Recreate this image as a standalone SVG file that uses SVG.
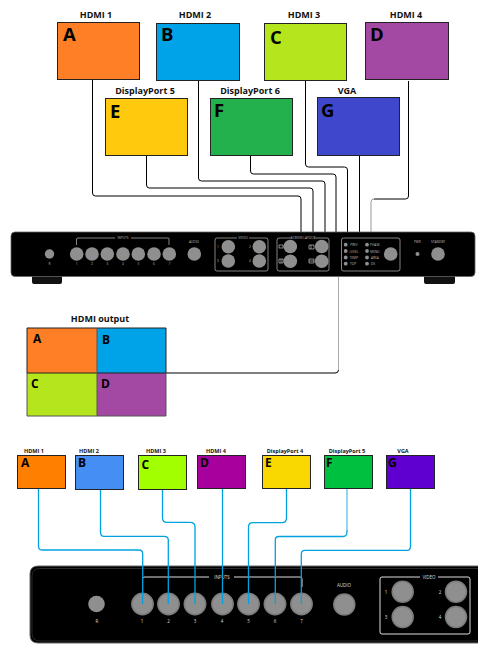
<svg xmlns="http://www.w3.org/2000/svg" width="494" height="655" viewBox="0 0 494 655">
<style>
text{font-family:"Open Sans","Liberation Sans",sans-serif}
.t{font-size:9px;font-weight:700;fill:#111;text-anchor:middle}
.l{font-size:18.500px;font-weight:700;fill:#000}
.m{font-size:12px;font-weight:700;fill:#000}
.s{font-size:5.500px;font-weight:700;fill:#111;text-anchor:middle}
.b{stroke:#222;stroke-width:1}
.k{fill:none;stroke:#000;stroke-width:1}
.c{fill:none;stroke:#00a2e0;stroke-width:1.300}
.g{fill:#8f8f8f}
.h{fill:#8f8f8f;stroke:#7c7c7c;stroke-width:1.500}
.f{fill:none;stroke:#ddd;stroke-width:.6}
.e{fill:none;stroke:#ddd;stroke-width:1}
.w{font-size:3.200px;fill:#bbb;text-anchor:middle}
.v{font-size:4.500px;fill:#ddd;text-anchor:middle}
</style>
<rect width="494" height="655" fill="#fff"/>
<g id="connectors-top">
<path class="k" d="M92.500 80V193Q92.500 196 95.500 196H298Q301 196 301 199V232"/>
<path class="k" d="M146.500 156V185Q146.500 188 149.500 188H310Q313 188 313 191V232"/>
<path class="k" d="M198.500 80V178Q198.500 181 201.500 181H322Q325 181 325 184V232"/>
<path class="k" d="M250.500 155V171Q250.500 174 253.500 174H333Q336 174 336 177V232"/>
<path class="k" d="M305.500 80V164Q305.500 167 308.500 167H344.500Q347.500 167 347.500 170V232"/>
<path class="k" d="M359.500 155V232"/>
<path class="k" d="M408.500 81V196Q408.500 199 405.500 199H374"/>
<path d="M374 199Q371 199 371 202V232" fill="none" stroke="#999" stroke-width="1"/>
<path d="M338.500 277V370" fill="none" stroke="#aaa" stroke-width="1"/>
<path class="k" d="M338.500 370Q338.500 373 335 373H166"/>
</g>
<g id="hdmi1"><text class="t" x="96" y="18">HDMI 1</text><rect class="b" x="57.500" y="22.500" width="82" height="57" fill="#ff7f27"/><text class="l" x="63" y="41">A</text></g>
<g id="hdmi2"><text class="t" x="195" y="18">HDMI 2</text><rect class="b" x="156.500" y="23.500" width="83" height="57" fill="#00a2e8"/><text class="l" x="161" y="41">B</text></g>
<g id="hdmi3"><text class="t" x="304" y="18">HDMI 3</text><rect class="b" x="264.500" y="23.500" width="82" height="57" fill="#b5e61d"/><text class="l" x="270" y="44">C</text></g>
<g id="hdmi4"><text class="t" x="406" y="18">HDMI 4</text><rect class="b" x="365.500" y="22.500" width="83" height="57" fill="#a349a4"/><text class="l" x="370" y="41">D</text></g>
<g id="dp5"><text class="t" x="145" y="94">DisplayPort 5</text><rect class="b" x="105.500" y="98.500" width="82" height="57" fill="#ffc90e"/><text class="l" x="110" y="118">E</text></g>
<g id="dp6"><text class="t" x="250" y="94">DisplayPort 6</text><rect class="b" x="210.500" y="98.500" width="82" height="57" fill="#22b14c"/><text class="l" x="214" y="117">F</text></g>
<g id="vga"><text class="t" x="347" y="94">VGA</text><rect class="b" x="317.500" y="97.500" width="82" height="58" fill="#3f48cc"/><text class="l" x="321" y="117">G</text></g>
<g id="device-top">
<path d="M32 274H62V282Q62 284 60 284H34Q32 284 32 282Z" fill="#111"/>
<path d="M424 274H455V282Q455 284 453 284H426Q424 284 424 282Z" fill="#111"/>
<rect x="11" y="232" width="464" height="44.500" rx="4" fill="#000" stroke="#666" stroke-width=".8"/>
<circle class="g" cx="49.500" cy="254" r="4.700"/><text class="w" x="49.500" y="265">R</text>
<path class="f" d="M76.500 245V239Q76.500 238 78 238H115M131 238H168Q169 238 169 239V245"/>
<text class="w" x="123" y="239">INPUTS</text>
<circle class="g" cx="76.700" cy="254" r="6.800"/><circle class="g" cx="92" cy="254" r="6.800"/><circle class="g" cx="107.300" cy="254" r="6.800"/><circle class="g" cx="123" cy="254" r="6.800"/><circle class="g" cx="138.300" cy="254" r="6.800"/><circle class="g" cx="154" cy="254" r="6.800"/><circle class="g" cx="169.300" cy="254" r="6.800"/>
<text class="w" x="76.700" y="265">1</text><text class="w" x="92" y="265">2</text><text class="w" x="107.300" y="265">3</text><text class="w" x="123" y="265">4</text><text class="w" x="138.300" y="265">5</text><text class="w" x="154" y="265">6</text><text class="w" x="169.300" y="265">7</text>
<circle class="g" cx="194.300" cy="254" r="6.800"/><text class="w" x="194" y="243">AUDIO</text>
<path class="f" d="M237 238H217Q215 238 215 240V269Q215 271 217 271H266Q268 271 268 269V240Q268 238 266 238H249"/><text class="w" x="243" y="239">VIDEO</text>
<circle class="g" cx="228.300" cy="246.700" r="6.800"/><circle class="g" cx="228.300" cy="261" r="6.800"/><circle class="g" cx="259.300" cy="246.700" r="6.800"/><circle class="g" cx="259.300" cy="261" r="6.800"/>
<text class="w" x="218" y="248">1</text><text class="w" x="218" y="262">3</text><text class="w" x="250" y="248">2</text><text class="w" x="250" y="262">4</text>
<path class="f" d="M292 238H279Q277 238 277 240V269Q277 271 279 271H327Q329 271 329 269V240Q329 238 327 238H314"/><text class="w" x="303" y="239">SCREEN LAYOUT</text>
<circle class="g" cx="290.300" cy="246.500" r="6.800"/><circle class="g" cx="290.300" cy="261.300" r="6.800"/><circle class="g" cx="321.700" cy="246.500" r="6.800"/><circle class="g" cx="321.700" cy="261.300" r="6.800"/>
<path class="f" d="M279 245H283V248H279ZM279 259H283V263H279ZM281 259V263M309 245H314V249H309ZM311 245V249M309 259H314V263H309ZM309 261H314"/>
<rect class="f" x="341.500" y="238" width="58.500" height="33" rx="2"/>
<circle class="g" cx="345.700" cy="244.700" r="1.900"/><circle class="g" cx="345.700" cy="251" r="1.900"/><circle class="g" cx="345.700" cy="257.500" r="1.900"/><circle class="g" cx="345.700" cy="263.700" r="1.900"/>
<circle class="g" cx="367" cy="244.700" r="1.900"/><circle class="g" cx="367" cy="251" r="1.900"/><circle class="g" cx="367" cy="257.500" r="1.900"/><circle class="g" cx="367" cy="263.700" r="1.900"/>
<text class="w" x="354" y="246">PREV</text><text class="w" x="354" y="252.500">LEVEL</text><text class="w" x="354" y="259">TEMP</text><text class="w" x="353" y="265">TOP</text>
<text class="w" x="375" y="246">PHASE</text><text class="w" x="375" y="252.500">MENU</text><text class="w" x="375" y="259">AREA</text><text class="w" x="373" y="265">OK</text>
<circle class="g" cx="390.700" cy="254" r="6.800"/>
<text class="w" x="417.300" y="243">PWR</text><circle class="g" cx="417.500" cy="254" r="2"/>
<text class="w" x="438" y="243">STANDBY</text><circle class="g" cx="438" cy="254" r="6.800"/>
</g>
<g id="output">
<text class="t" x="100" y="322">HDMI output</text>
<rect x="27" y="328" width="70" height="45" fill="#ff7f27"/><rect x="97" y="328" width="69" height="45" fill="#00a2e8"/><rect x="27" y="373" width="70" height="43" fill="#b5e61d"/><rect x="97" y="373" width="69" height="43" fill="#a349a4"/>
<path d="M27 373V328H166V373M27 373H166" fill="none" stroke="#222" stroke-width="1"/>
<path d="M27 373V416H166V373M97 328V416" fill="none" stroke="#555" stroke-width="1"/>
<text class="m" x="33" y="343">A</text><text class="m" x="102" y="343.500">B</text><text class="m" x="31" y="387.500">C</text><text class="m" x="101" y="387.500">D</text>
</g>
<g id="device-bottom">
<path d="M478 566H38Q30 566 30 574V635Q30 643 38 643H478Z" fill="#000"/>
<path d="M478 566H38Q30 566 30 574V635Q30 643 38 643H478" fill="none" stroke="#666" stroke-width="1"/>
<path d="M478 568.500H40Q32 568.500 32 576V633Q32 641 40 641H478" fill="none" stroke="#333" stroke-width=".8"/>
<path class="e" d="M143 578Q143 577 145 577H209M234 577H300Q302 577 302 579V587"/>
<text class="v" x="222" y="579">INPUTS</text>
<circle class="g" cx="96.500" cy="604" r="8.300"/><text class="v" x="97" y="623">R</text>
<circle class="h" cx="142.500" cy="604" r="10.700"/><circle class="h" cx="168.500" cy="604" r="10.700"/><circle class="h" cx="195" cy="604" r="10.700"/><circle class="h" cx="222.500" cy="604" r="10.700"/><circle class="h" cx="248.500" cy="604" r="10.700"/><circle class="h" cx="275" cy="604" r="10.700"/><circle class="h" cx="301.500" cy="604" r="10.700"/>
<text class="v" x="142" y="623">1</text><text class="v" x="168.500" y="623">2</text><text class="v" x="195" y="623">3</text><text class="v" x="222" y="623">4</text><text class="v" x="248.500" y="623">5</text><text class="v" x="275" y="623">6</text><text class="v" x="301.500" y="623">7</text>
<text class="v" x="344" y="587">AUDIO</text><circle class="h" cx="344.300" cy="604.500" r="10.500"/>
<path class="e" d="M420 577H382Q380 577 380 579V632Q380 634 382 634H468Q470 634 470 632V579Q470 577 468 577H438"/>
<text class="v" x="429" y="579">VIDEO</text>
<circle class="h" cx="402.700" cy="591.700" r="10.500"/><circle class="h" cx="456" cy="591.700" r="10.500"/><circle class="h" cx="402.700" cy="617" r="10.500"/><circle class="h" cx="456" cy="617" r="10.500"/>
<text class="v" x="386" y="594">1</text><text class="v" x="440" y="594">2</text><text class="v" x="386" y="619">3</text><text class="v" x="440" y="619">4</text>
</g>
<g id="connectors-bottom">
<path class="c" d="M38.500 489V546Q38.500 550 42 550H139Q142.700 550 142.700 554V604"/>
<path class="c" d="M100.500 490V532Q100.500 536.300 104 536.300H164Q168.300 536.300 168.300 540V604"/>
<path class="c" d="M162.500 490V518Q162.500 522.300 167 522.300H190Q195 522.300 195 527V604"/>
<path class="c" d="M222.500 489V604"/>
<path class="c" d="M286.500 489V518Q286.500 522.700 282 522.700H253Q248.500 522.700 248.500 527V604"/>
<path d="M347 489V530" fill="none" stroke="#8fd8f2" stroke-width="2"/>
<path class="c" d="M347 530V532Q347 536.500 343 536.500H279Q275.300 536.500 275.300 540V604"/>
<path class="c" d="M410.500 489V546Q410.500 550.300 407 550.300H305Q301.300 550.300 301.300 554V604"/>
</g>
<g id="b-hdmi1"><text class="s" x="34" y="453">HDMI 1</text><rect class="b" x="17.500" y="455.500" width="48" height="33" fill="#ff8000"/><text class="m" x="21" y="466.500">A</text></g>
<g id="b-hdmi2"><text class="s" x="89" y="453">HDMI 2</text><rect class="b" x="75.500" y="455.500" width="48" height="34" fill="#448ef4"/><text class="m" x="78" y="466.500">B</text></g>
<g id="b-hdmi3"><text class="s" x="156" y="453">HDMI 3</text><rect class="b" x="138.500" y="455.500" width="48" height="34" fill="#a2ff00"/><text class="m" x="141.500" y="468.500">C</text></g>
<g id="b-hdmi4"><text class="s" x="216" y="453">HDMI 4</text><rect class="b" x="197.500" y="455.500" width="48" height="33" fill="#a8009d"/><text class="m" x="200" y="466.500">D</text></g>
<g id="b-dp4"><text class="s" x="285" y="453">DisplayPort 4</text><rect class="b" x="262.500" y="455.500" width="48" height="33" fill="#f8d800"/><text class="m" x="265" y="467">E</text></g>
<g id="b-dp5"><text class="s" x="347" y="453">DisplayPort 5</text><rect class="b" x="324.500" y="455.500" width="48" height="33" fill="#00c040"/><text class="m" x="326" y="466.500">F</text></g>
<g id="b-vga"><text class="s" x="403" y="452.500">VGA</text><rect class="b" x="386.500" y="455.500" width="48" height="33" fill="#6000d0"/><text class="m" x="388" y="467">G</text></g>
</svg>
